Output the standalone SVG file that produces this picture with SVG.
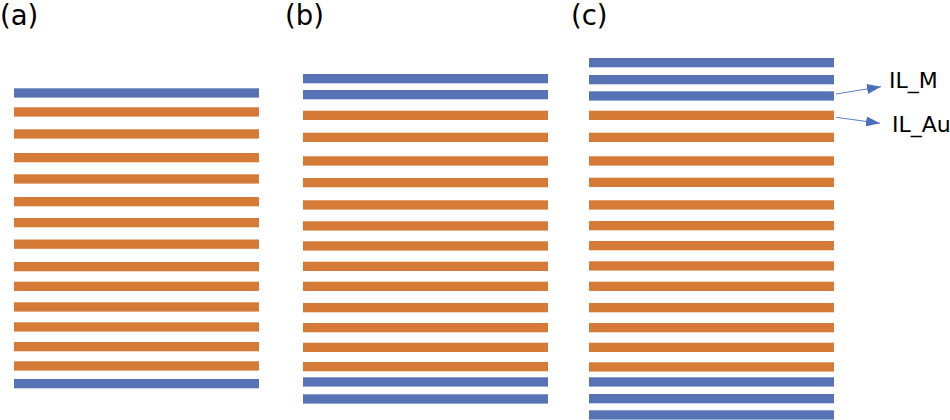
<svg xmlns="http://www.w3.org/2000/svg" width="950" height="420" viewBox="0 0 950 420">
<style>
.b{fill:#5773b6}
.o{fill:#d67a38}
.lbl{font-family:"DejaVu Sans",sans-serif;fill:#000}
.con{stroke:#5b7fc4;stroke-width:1;fill:none}
</style>
<defs>
<marker id="ah" viewBox="0 0 14 10" refX="14" refY="5" markerWidth="14" markerHeight="10" markerUnits="userSpaceOnUse" orient="auto">
<path d="M0,0 L14,5 L0,10 z" fill="#4a6fb8"/>
</marker>
</defs>
<rect width="950" height="420" fill="#fff"/>
<text class="lbl" x="0" y="25" font-size="27.5">(a)</text>
<text class="lbl" x="285" y="25" font-size="27.5">(b)</text>
<text class="lbl" x="571" y="25" font-size="27.5">(c)</text>
<g id="panel-a">
<rect class="b" x="14" y="88.3" width="245" height="9.3"/>
<rect class="o" x="14" y="107.3" width="245" height="9.3"/>
<rect class="o" x="14" y="129.3" width="245" height="9.3"/>
<rect class="o" x="14" y="153" width="245" height="9.3"/>
<rect class="o" x="14" y="174.3" width="245" height="9.3"/>
<rect class="o" x="14" y="197" width="245" height="9.3"/>
<rect class="o" x="14" y="218" width="245" height="9.3"/>
<rect class="o" x="14" y="239.5" width="245" height="9.3"/>
<rect class="o" x="14" y="262" width="245" height="9.3"/>
<rect class="o" x="14" y="281.7" width="245" height="9.3"/>
<rect class="o" x="14" y="302.3" width="245" height="9.3"/>
<rect class="o" x="14" y="322.3" width="245" height="9.3"/>
<rect class="o" x="14" y="342" width="245" height="9.3"/>
<rect class="o" x="14" y="361.3" width="245" height="9.3"/>
<rect class="b" x="14" y="379" width="245" height="9.3"/>
</g>
<g id="panel-b">
<rect class="b" x="303" y="74" width="245" height="9.3"/>
<rect class="b" x="303" y="90" width="245" height="9.3"/>
<rect class="o" x="303" y="110.7" width="245" height="9.3"/>
<rect class="o" x="303" y="132.7" width="245" height="9.3"/>
<rect class="o" x="303" y="156.3" width="245" height="9.3"/>
<rect class="o" x="303" y="178" width="245" height="9.3"/>
<rect class="o" x="303" y="200.3" width="245" height="9.3"/>
<rect class="o" x="303" y="221.3" width="245" height="9.3"/>
<rect class="o" x="303" y="241.3" width="245" height="9.3"/>
<rect class="o" x="303" y="261.7" width="245" height="9.3"/>
<rect class="o" x="303" y="281.7" width="245" height="9.3"/>
<rect class="o" x="303" y="303" width="245" height="9.3"/>
<rect class="o" x="303" y="323" width="245" height="9.3"/>
<rect class="o" x="303" y="342.7" width="245" height="9.3"/>
<rect class="o" x="303" y="362" width="245" height="9.3"/>
<rect class="b" x="303" y="377.3" width="245" height="9.3"/>
<rect class="b" x="303" y="394.3" width="245" height="9.3"/>
</g>
<g id="panel-c">
<rect class="b" x="589" y="58" width="245" height="9.3"/>
<rect class="b" x="589" y="75" width="245" height="9.3"/>
<rect class="b" x="589" y="91.3" width="245" height="9.3"/>
<rect class="o" x="589" y="110.7" width="245" height="9.3"/>
<rect class="o" x="589" y="132.7" width="245" height="9.3"/>
<rect class="o" x="589" y="156.3" width="245" height="9.3"/>
<rect class="o" x="589" y="177.7" width="245" height="9.3"/>
<rect class="o" x="589" y="200.3" width="245" height="9.3"/>
<rect class="o" x="589" y="221" width="245" height="9.3"/>
<rect class="o" x="589" y="241" width="245" height="9.3"/>
<rect class="o" x="589" y="261.3" width="245" height="9.3"/>
<rect class="o" x="589" y="281.7" width="245" height="9.3"/>
<rect class="o" x="589" y="303" width="245" height="9.3"/>
<rect class="o" x="589" y="323" width="245" height="9.3"/>
<rect class="o" x="589" y="342.7" width="245" height="9.3"/>
<rect class="o" x="589" y="362.3" width="245" height="9.3"/>
<rect class="b" x="589" y="377.3" width="245" height="9.3"/>
<rect class="b" x="589" y="394" width="245" height="9.3"/>
<rect class="b" x="589" y="410.3" width="245" height="9.3"/>
</g>
<g id="label-ilm"><text class="lbl" x="889" y="88.3" font-size="22">IL_M</text></g>
<g id="label-ilau"><text class="lbl" x="892" y="131.7" font-size="22">IL_Au</text></g>
<g id="connectors">
<line class="con" x1="836" y1="94" x2="881" y2="86.7" marker-end="url(#ah)"/>
<line class="con" x1="836" y1="117.3" x2="880" y2="123.3" marker-end="url(#ah)"/>
</g>
</svg>
